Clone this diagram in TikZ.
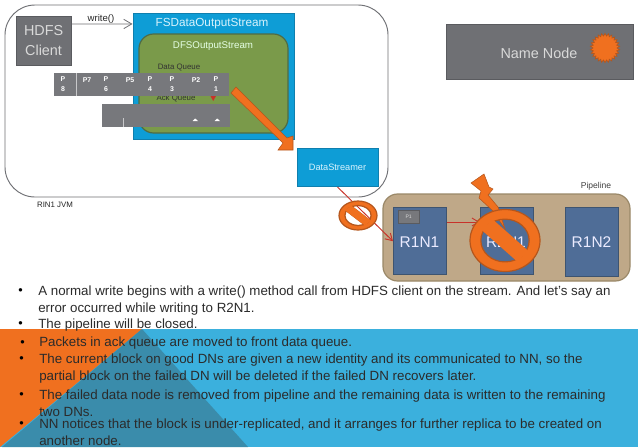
\documentclass[tikz,border=0pt]{standalone}
\usepackage{fontspec}
\setmainfont{Liberation Sans}
\usetikzlibrary{shapes.geometric,arrows.meta}
\definecolor{greybox}{HTML}{6F7074}
\definecolor{greyedge}{HTML}{5A5B5F}
\definecolor{bandgrey}{HTML}{77787C}
\definecolor{bandline}{HTML}{C8C8CA}
\definecolor{cyanbox}{HTML}{0E9DD6}
\definecolor{cyanedge}{HTML}{0F7FAE}
\definecolor{greenbox}{HTML}{7A9A4A}
\definecolor{greenedge}{HTML}{4F6B45}
\definecolor{tanbox}{HTML}{BFA888}
\definecolor{tanedge}{HTML}{9A8868}
\definecolor{dnblue}{HTML}{4F6D97}
\definecolor{dnedge}{HTML}{3E5470}
\definecolor{orng}{HTML}{F0701F}
\definecolor{orngedge}{HTML}{B5561C}
\definecolor{bluebg}{HTML}{3BB0DD}
\definecolor{tealbg}{HTML}{3A8CAB}
\definecolor{bodytext}{HTML}{2B2B2B}
\definecolor{redline}{HTML}{C8322A}
\tikzset{
  x=0.75pt,y=-0.75pt,
  greynode/.style={fill=greybox,draw=greyedge,line width=0.9pt,text=white!85!black,align=center,inner sep=0pt},
  cyannode/.style={fill=cyanbox,draw=cyanedge,line width=0.75pt,text=white!85!cyan,inner sep=0pt},
  dnnode/.style={fill=dnblue,draw=dnedge,line width=1.1pt,inner sep=0pt,minimum width=39.75pt,minimum height=50.25pt},
  dnlabel/.style={inner sep=0pt,text=white!92!blue,font=\fontsize{11.6}{14}\selectfont},
  bodyline/.style={anchor=base west,inner sep=0pt,text=bodytext,font=\fontsize{10}{12}\selectfont},
  bulletmark/.style={anchor=base,inner sep=0pt,text=black,font=\fontsize{9.5}{11}\selectfont},
  smalllabel/.style={inner sep=0pt,text=black!80,font=\fontsize{5.9}{7}\selectfont},
  pkt/.style={inner sep=0pt,text=white,align=center,font=\bfseries\fontsize{5.2}{7}\selectfont},
  redconn/.style={draw=redline,line width=0.7pt,-{Straight Barb[length=5pt,width=6pt]}},
  banshape/.style={fill=orng,draw=orngedge,line width=0.9pt},
  pics/nosign/.style n args={2}{code={
    \path[banshape,even odd rule] (0,0) ellipse [x radius=#1,y radius=#2]
       (0,0) ellipse [x radius=0.69*#1,y radius=0.69*#2];
    \draw[orngedge,line width=0.9pt] (-0.63*#1,-0.34*#2) -- (0.34*#1,0.63*#2) (-0.34*#1,-0.63*#2) -- (0.63*#1,0.34*#2);
    \path[fill=orng] (-0.68*#1,-0.35*#2) -- (-0.35*#1,-0.68*#2) -- (0.68*#1,0.35*#2) -- (0.35*#1,0.68*#2) -- cycle;
  }}
}
\begin{document}
\begin{tikzpicture}
\useasboundingbox (0,0) rectangle (638,447);
\fill[white] (0,0) rectangle (638,447);
% bottom band
\fill[bluebg] (0,329) rectangle (638,447);
\fill[orng] (0,329) -- (142,329) -- (0,447) -- cycle;
\fill[tealbg] (142,329) -- (248,447) -- (2,447) -- cycle;
% JVM frame
\draw[greybox,line width=0.7pt,fill=white,rounded corners=22.5pt] (5,5) rectangle (388,197);
\node[smalllabel,text=black!85] (jvm) at (55,205) {RIN1 JVM};
% stream boxes
\node[cyannode,minimum width=120.75pt,minimum height=94.5pt,anchor=north west] (fsd) at (132.5,12.5) {};
\node[inner sep=0pt,text=white!85!cyan,font=\fontsize{8.8}{10}\selectfont] (fsdl) at (212,24) {FSDataOutputStream};
\draw[greenedge,fill=greenbox,line width=0.9pt,rounded corners=11pt] (139,34) rectangle (288,133);
\node[inner sep=0pt,text=white!90!green,font=\fontsize{7.3}{8}\selectfont] (dfs) at (213,46) {DFSOutputStream};
\node[smalllabel] (dq) at (179,67) {Data Queue};
\node[smalllabel] (aq) at (176,98) {Ack Queue};
\fill[redline] (210.5,96) -- (216,96) -- (213.2,101) -- cycle;
% client
\node[greynode,minimum width=41.25pt,minimum height=36.75pt,font=\fontsize{10.8}{14.5}\selectfont,anchor=north west] (client) at (15.5,15.5) {HDFS\\Client};
\draw[greybox,line width=0.6pt,-{Straight Barb[length=6pt,width=7pt]}] ([yshift=-6.4pt]client.north east) -- ([yshift=-8.6pt]fsd.north west);
\node[smalllabel,text=black!85,font=\fontsize{7.2}{8}\selectfont] (wr) at (101,19.5) {write()};
% queues
\fill[bandgrey] (54,73) rectangle (229,96);
\fill[bandline] (76.2,73) rectangle (76.8,96);
\fill[bandgrey] (102,104) rectangle (230,127);
\fill[bandline] (123.2,118) rectangle (123.8,127);
\node[pkt] (p8) at (63,84) {P\\8};
\node[pkt] (p7) at (87,80) {P7};
\node[pkt] (p6) at (106,84) {P\\6};
\node[pkt] (p5) at (130,80) {P5};
\node[pkt] (p4) at (150,84) {P\\4};
\node[pkt] (p3) at (172,84) {P\\3};
\node[pkt] (p2) at (196,80) {P2};
\node[pkt] (p1) at (216,84) {P\\1};
\fill[white] (192.5,121) -- (198,121) -- (195.2,118.5) -- cycle;
\fill[white] (214.5,121) -- (220,121) -- (217.2,118.5) -- cycle;
% data streamer
\node[cyannode,minimum width=60.75pt,minimum height=28.5pt,anchor=north west,font=\fontsize{6.9}{8}\selectfont] (ds) at (296.5,148) {DataStreamer};
% big arrow
\path[fill=orng,draw=orngedge,line width=0.4pt] (236,87) -- (287,138) -- (293,136) -- (293,150) -- (278,150) -- (283,143) -- (231,93) -- cycle;
% name node
\node[greynode,minimum width=140.25pt,minimum height=41.25pt,anchor=north west] (nn) at (445.5,24) {};
\node[inner sep=0pt,text=white!85!black,font=\fontsize{10.8}{13}\selectfont] (nnl) at (539,53) {Name Node};
\node[star,star points=26,star point ratio=1.22,fill=orng,draw=orngedge,line width=0.5pt,minimum size=22pt,inner sep=0pt] (sun) at (605,48) {};
% pipeline
\draw[tanedge,fill=tanbox,line width=0.9pt,rounded corners=11pt] (383,194) rectangle (630,281);
\node[smalllabel,text=black!75,font=\fontsize{6.4}{8}\selectfont] (pl) at (596,186) {Pipeline};
\node[dnnode,anchor=north west] (r1n1) at (393,207) {};
\node[dnlabel] (r1n1l) at (419.5,242) {R1N1};
\node[dnnode,anchor=north west] (r2n1) at (479.5,207) {};
\node[dnlabel] (r2n1l) at (506,242) {R2N1};
\node[dnnode,anchor=north west,minimum height=51.5pt] (r1n2) at (565,207) {};
\node[dnlabel] (r1n2l) at (591.5,242) {R1N2};
\node[greynode,fill=bandgrey,minimum width=15.75pt,minimum height=9.75pt,line width=0.3pt,anchor=north west,font=\fontsize{3.8}{4}\selectfont] (pone) at (398,210) {P1};
% connectors
\draw[redconn] (ds.south) -- (r1n1.west);
\draw[redconn] ([yshift=-11.25pt]r1n1.north east) -- ([yshift=-11.25pt]r2n1.north west);
% lightning and prohibition signs
\path[fill=orng,draw=orngedge,line width=0.4pt] (484,174) -- (489,187) -- (493,189) -- (488,195) -- (498,207) -- (505,229) -- (493,211) -- (479,198) -- (481,191) -- (471,183) -- cycle;
\pic at (358,215.5) {nosign={19}{14.5}};
\pic at (505,240.5) {nosign={35}{31}};
% text
\node[bulletmark] (b1) at (20.7,294.4) {•};
\node[bodyline] (t1) at (38,295) {A normal write begins with a write() method call from HDFS client on the stream. And let’s say an};
\node[bodyline] (t1b) at (38,312) {error occurred while writing to R2N1.};
\node[bulletmark] (b2) at (20.7,327) {•};
\node[bodyline] (t2) at (38,328) {The pipeline will be closed.};
\node[bulletmark] (b3) at (22.7,346) {•};
\node[bodyline] (t3) at (39,346.5) {Packets in ack queue are moved to front data queue.};
\node[bulletmark] (b4) at (21.7,362) {•};
\node[bodyline] (t4) at (39,363) {The current block on good DNs are given a new identity and its communicated to NN, so the};
\node[bodyline] (t4b) at (39,380) {partial block on the failed DN will be deleted if the failed DN recovers later.};
\node[bulletmark] (b5) at (21.7,398) {•};
\node[bodyline] (t5) at (39,399) {The failed data node is removed from pipeline and the remaining data is written to the remaining};
\node[bodyline] (t5b) at (39,416) {two DNs.};
\node[bulletmark] (b6) at (21.7,427) {•};
\node[bodyline] (t6) at (39,428) {NN notices that the block is under-replicated, and it arranges for further replica to be created on};
\node[bodyline] (t6b) at (39,445) {another node.};
\end{tikzpicture}
\end{document}
